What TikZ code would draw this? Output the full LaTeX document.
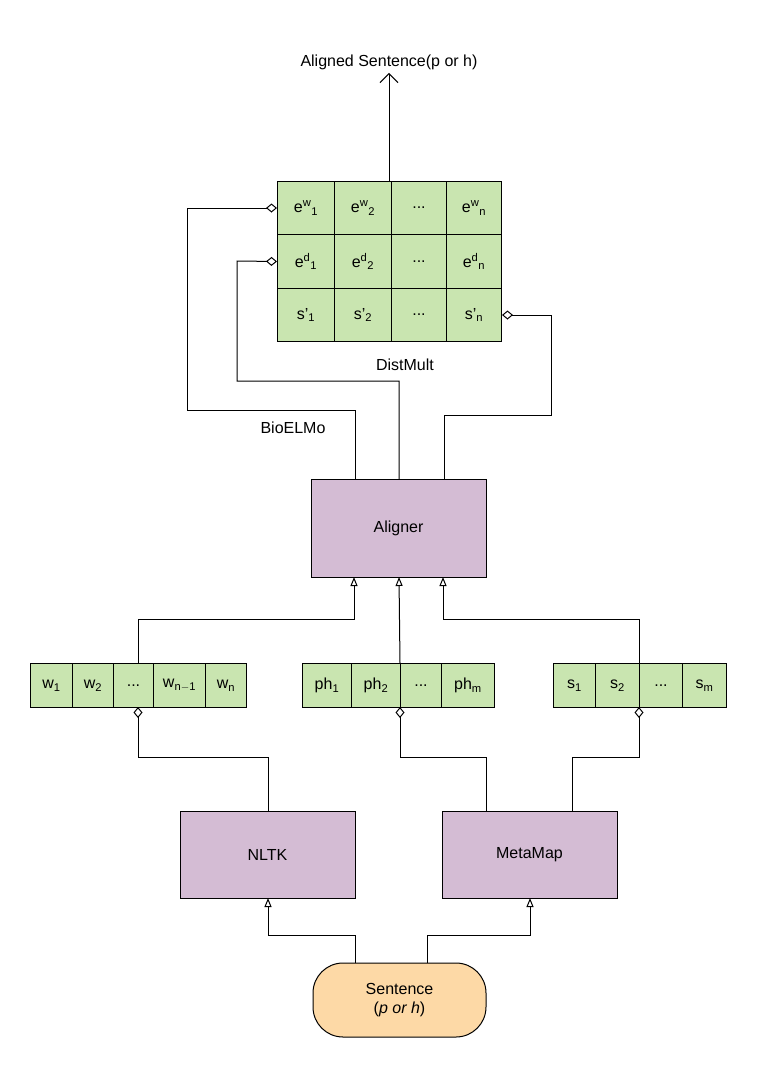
\documentclass[tikz,border=0pt]{standalone}
\usepackage{fontspec}
\setmainfont{Liberation Sans}
\usetikzlibrary{arrows.meta}
\definecolor{gr}{HTML}{C9E5B0}
\definecolor{pu}{HTML}{D4BCD4}
\definecolor{or}{HTML}{FDD9A6}
\begin{document}
\begin{tikzpicture}[x=1pt,y=-1pt,
  font=\fontsize{16}{19}\selectfont,
  cell/.style={draw,line width=1pt,fill=gr,inner sep=0pt,anchor=north west},
  box/.style={draw,line width=1pt,fill=pu,inner sep=0pt,minimum width=175pt},
  con/.style={line width=1pt},
  dia/.style={{Diamond[open,length=11pt,width=9pt]}-},
  tri/.style={-{Triangle[open,length=9pt,width=7pt]}}]
\useasboundingbox (0,0) rectangle (762,1082);
\node (title) at (389,62) {Aligned Sentence(p or h)};
% grid
\foreach \r/\y/\h in {1/181/53,2/234/54,3/288/53}{
  \foreach \c/\x/\w in {1/277/57,2/334/57,3/391/55,4/446/55}{
    \node[cell,minimum width=\w pt,minimum height=\h pt] (g\r\c) at (\x,\y) {};
  }}
\node at (g11) {e$^{\mathrm{w}}$$_{\mathrm{1}}$};
\node at (g12) {e$^{\mathrm{w}}$$_{\mathrm{2}}$};
\node at (g13) {...};
\node at (g14) {e$^{\mathrm{w}}$$_{\mathrm{n}}$};
\node at (g21) {e$^{\mathrm{d}}$$_{\mathrm{1}}$};
\node at (g22) {e$^{\mathrm{d}}$$_{\mathrm{2}}$};
\node at (g23) {...};
\node at (g24) {e$^{\mathrm{d}}$$_{\mathrm{n}}$};
\node at (g31) {s'$_{\mathrm{1}}$};
\node at (g32) {s'$_{\mathrm{2}}$};
\node at (g33) {...};
\node at (g34) {s'$_{\mathrm{n}}$};
\node (dm) at (405,365) {DistMult};
\node (bio) at (293,428) {BioELMo};
\draw[con,-{Straight Barb[length=9pt,width=18pt]}] (389,181) -- (title.south);
% aligner
\node[box,minimum height=98pt] (al) at (398.5,528) {Aligner};
\draw[con,dia] (g11.west) -- (187,208) |- (355,410) -- (355,479);
\draw[con,dia] (g21.west) -- (237,261) |- (399,381) -- (399,479);
\draw[con,dia] (g34.east) -- (551,315) |- (444,415) -- (444,479);
% rows
\foreach \n/\x/\w in {w1/30/42,w2/72/41,w3/113/40,w4/153/52,w5/205/41,
  p1/302/49,p2/351/49,p3/400/41,p4/441/53,
  s1/553/42,s2/595/44,s3/639/43,s4/682/44}{
  \node[cell,minimum width=\w pt,minimum height=44pt] (\n) at (\x,663) {};}
\node at (w1) {w$_{\mathrm{1}}$};
\node at (w2) {w$_{\mathrm{2}}$};
\node at (w3) {...};
\node at (w4) {w$_{\mathrm{n-1}}$};
\node at (w5) {w$_{\mathrm{n}}$};
\node at (p1) {ph$_{\mathrm{1}}$};
\node at (p2) {ph$_{\mathrm{2}}$};
\node at (p3) {...};
\node at (p4) {ph$_{\mathrm{m}}$};
\node at (s1) {s$_{\mathrm{1}}$};
\node at (s2) {s$_{\mathrm{2}}$};
\node at (s3) {...};
\node at (s4) {s$_{\mathrm{m}}$};
\coordinate (wt) at (138,663); \coordinate (pt) at (400,663); \coordinate (st) at (639,663);
\coordinate (wb) at (138,707); \coordinate (pb) at (400,707); \coordinate (sb) at (639,707);
\draw[con,dia,tri] (wt) -- (138,619) -| (354,577);
\draw[con,dia,tri] (pt) -- (399,577);
\draw[con,dia,tri] (st) -- (639,619) -| (443,577);
% tools
\node[box,minimum height=87pt] (nltk) at (267.5,854.5) {NLTK};
\node[box,minimum height=87pt] (mm) at (529.5,854.5) {MetaMap};
\draw[con,dia] (wb) -- (138,757) -| (268,811);
\draw[con,dia] (pb) -- (400,757) -| (486,811);
\draw[con,dia] (sb) -- (639,757) -| (572,811);
\node[draw,line width=1pt,fill=or,rounded corners=30pt,minimum width=173pt,minimum height=74pt,align=center,inner sep=0pt] (sen) at (399.5,1000) {Sentence\\(\textit{p or h})};
\draw[con,tri] (355,963) -- (355,935) -| (268,898);
\draw[con,tri] (427,963) -- (427,935) -| (530,898);
\end{tikzpicture}
\end{document}
